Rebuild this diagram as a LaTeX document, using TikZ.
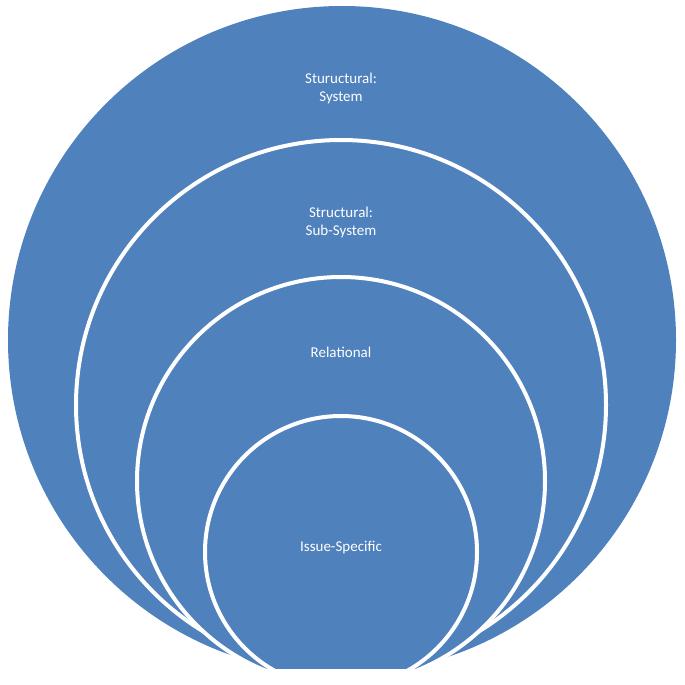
\documentclass[tikz,border=0pt]{standalone}
\usepackage{fontspec}
\setmainfont{Carlito}
\definecolor{ringblue}{RGB}{79,129,189}
\begin{document}
\begin{tikzpicture}[x=1pt,y=-1pt,
	ring/.style={
		circle,
		draw=white,
		line width=4pt,
		fill=ringblue
	},
	lbl/.style={
		text=white,
		align=center,
		font=\fontsize{15}{18}\selectfont
	}
]
\useasboundingbox (0,0) rectangle (685,685);
\clip (0,0) rectangle (685,668);

\fill[ringblue] (342,340) circle[radius=334] coordinate (outer);
\draw[ring] (341,405) circle[radius=265] coordinate (sub);
\draw[ring] (341,481) circle[radius=204] coordinate (rel);
\draw[ring] (341,552) circle[radius=136] coordinate (issue);

\node[lbl] (lbl_sys) at (341,89) {Stuructural:\\System};
\node[lbl] (lbl_sub) at (341,222) {Structural:\\Sub-System};
\node[lbl] (lbl_rel) at (341,352) {Relational};
\node[lbl] (lbl_issue) at (341,548) {Issue-Specific};

\end{tikzpicture}
\end{document}
